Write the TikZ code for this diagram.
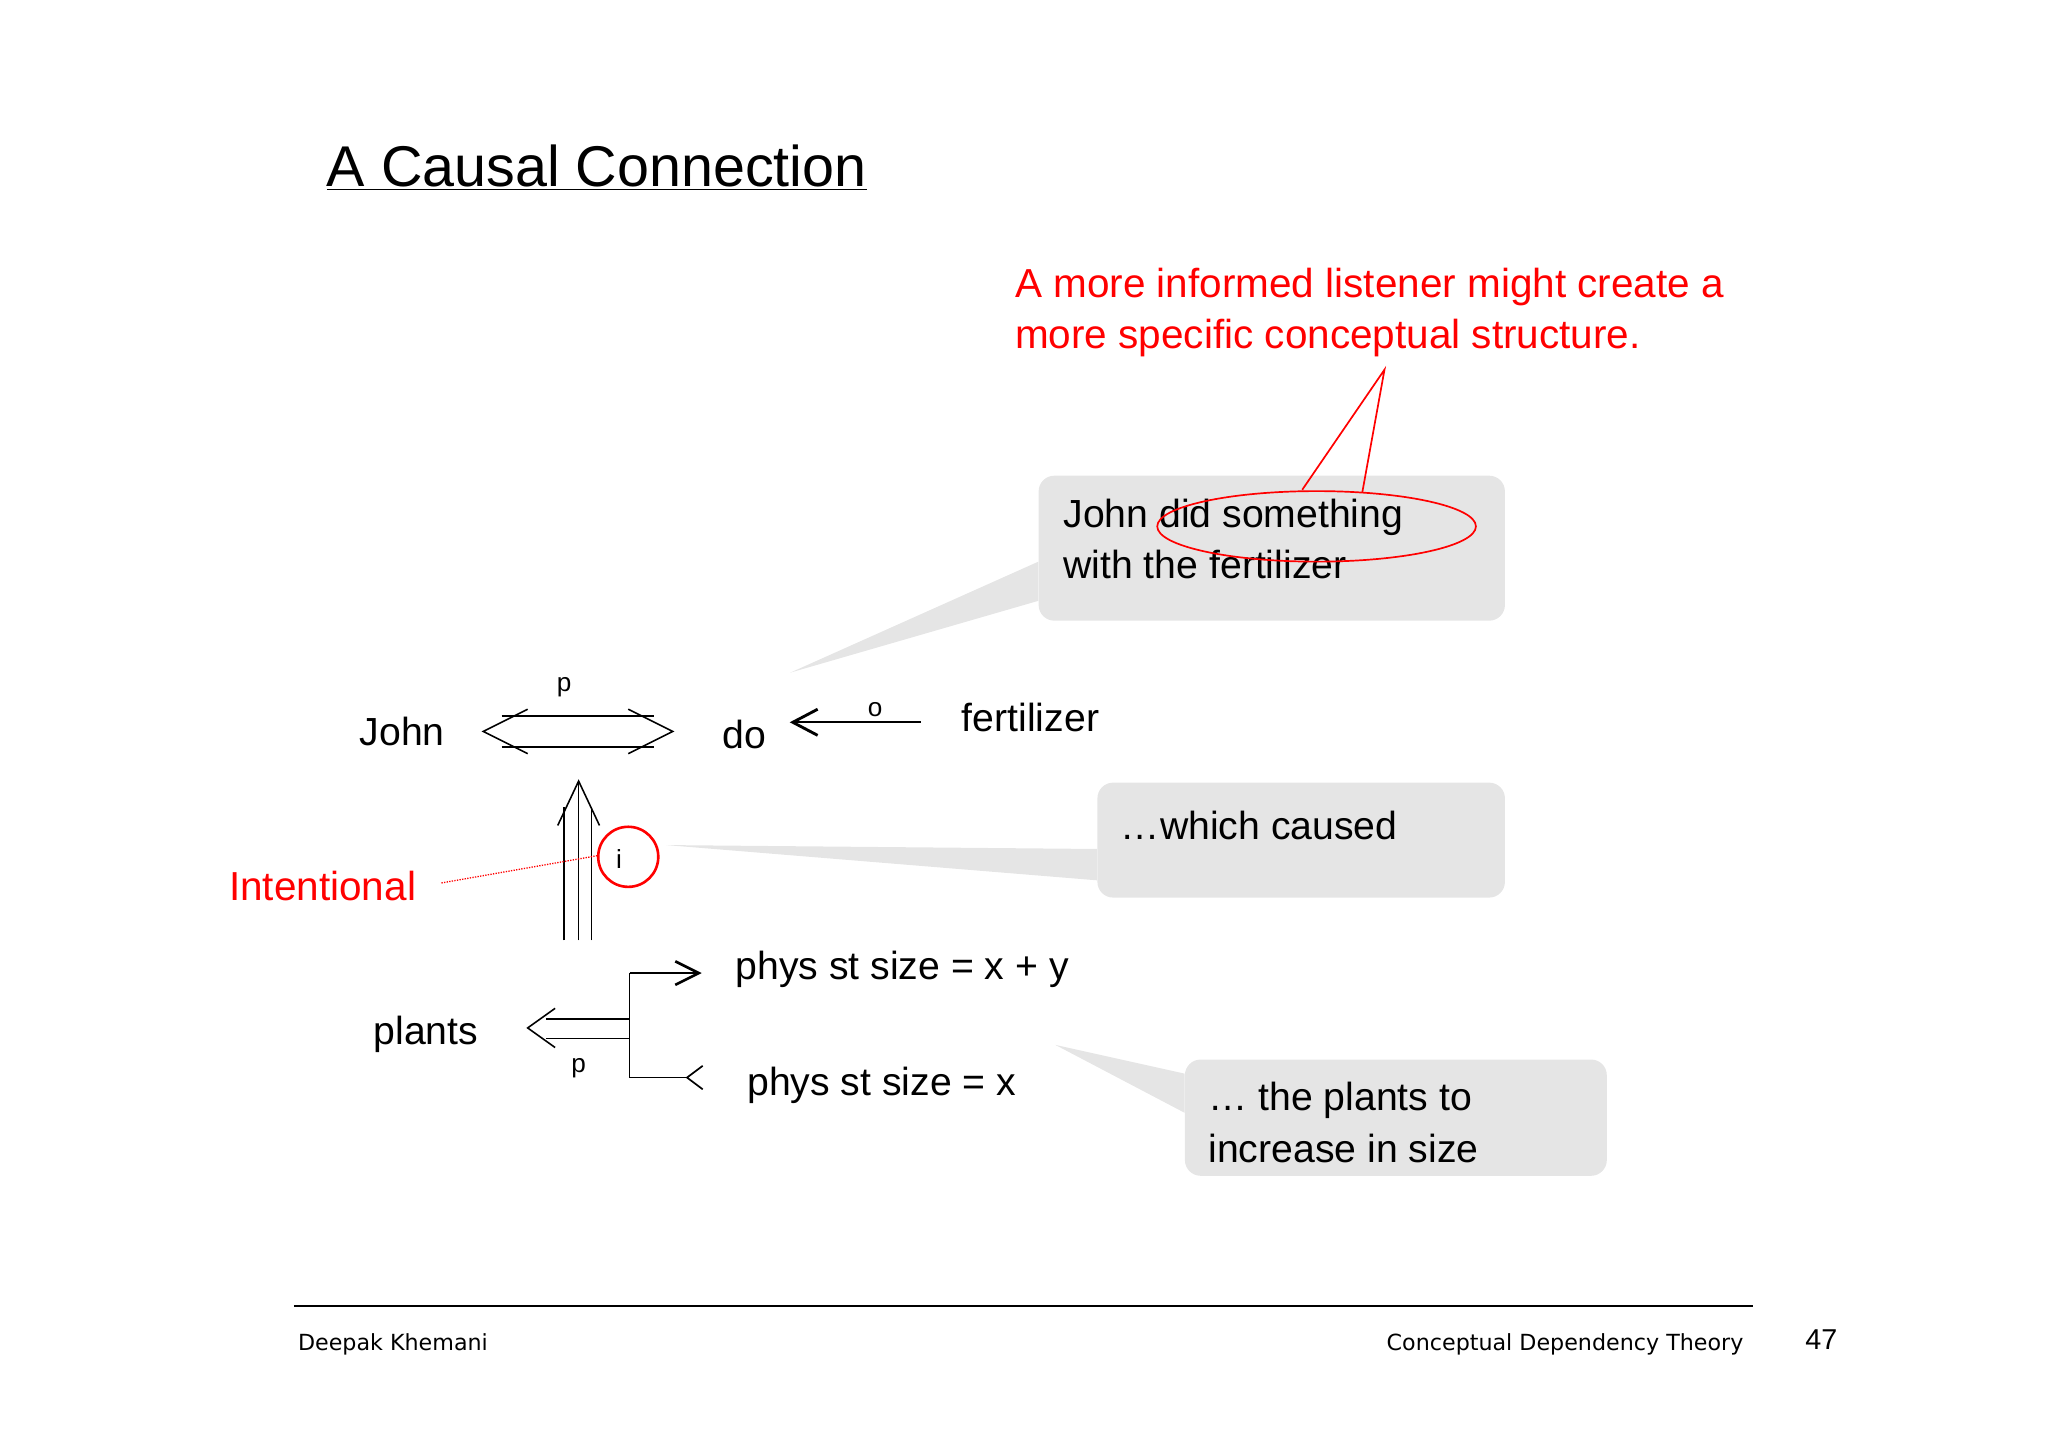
\documentclass[tikz,border=0pt]{standalone}
\usepackage{fontspec}
\setmainfont{Liberation Sans}
\newfontfamily\foot{DejaVu Sans}
\begin{document}
\begin{tikzpicture}[x=1pt,y=-1pt,
  lbl/.style={inner sep=0pt,font=\fontsize{30}{36}\selectfont},
  rl/.style={inner sep=0pt,font=\fontsize{31}{39}\selectfont,text=red,align=left},
  box/.style={fill=black!10,rounded corners=12pt,draw=none},
  ln/.style={line width=1.3pt},
  sm/.style={inner sep=0pt,font=\fontsize{20}{24}\selectfont}]
\useasboundingbox (0,0) rectangle (1568,1108);
% title
\node[inner sep=0pt,anchor=base west,font=\fontsize{44}{50}\selectfont] (title) at (250,143) {\underline{A Causal Connection}};
\node[rl,anchor=north west] (note) at (777,205) {A more informed listener might create a\\more specific conceptual structure.};
% callout 1
\fill[black!10] (795,430) -- (605,515) -- (795,460) -- cycle;
\node[box,minimum width=357,minimum height=111,anchor=north west] (b1) at (795,364) {};
\node[lbl,anchor=north west,align=left,font=\fontsize{30}{39}\selectfont] (t1) at (814,382) {John did something\\with the fertilizer};
\draw[red,line width=1.3pt] (1008,403) ellipse [x radius=122,y radius=27];
\coordinate (tip) at (1060,283);
\draw[red,line width=1.3pt] (997,375) -- (tip) -- (1043,377);
% callout 2
\fill[black!10] (840,650) -- (510,647) -- (840,674) -- cycle;
\node[box,minimum width=312,minimum height=88,anchor=north west] (b2) at (840,599) {};
\node[lbl,anchor=west] (t2) at (858,632) {\dots which caused};
% callout 3
\fill[black!10] (907,822) -- (808,800) -- (907,852) -- cycle;
\node[box,minimum width=323,minimum height=89,anchor=north west] (b3) at (907,811) {};
\node[lbl,anchor=north west,align=left,font=\fontsize{30}{40}\selectfont] (t3) at (925,828) {\dots\ the plants to\\increase in size};
% John <=> do
\node[lbl] (john) at (308,560) {John};
\node[lbl] (do) at (570,562) {do};
\node[sm] (p1) at (432,526) {p};
\coordinate (jl) at (370,560); \coordinate (jr) at (515,560);
\draw[line width=1.2pt] (384,548) -- (501,548) (384,572) -- (501,572);
\draw[line width=1.2pt] (404,543) -- (jl) -- (404,577);
\draw[line width=1.2pt] (481,543) -- (jr) -- (481,577);
% o arrow
\node[lbl] (fert) at (789,549) {fertilizer};
\node[sm] (o) at (670,543) {o};
\coordinate (oa) at (705,553); \coordinate (ob) at (607,553);
\draw[ln] (oa) -- (ob);
\draw[line width=2.2pt] (626,543) -- (ob) -- (626,563);
% triple arrow
\coordinate (ttip) at (443,598);
\draw[line width=1.2pt] (432,720) -- (432,618) (443,720) -- (ttip) (453,720) -- (453,618);
\draw[line width=1.2pt] (427,632) -- (ttip) -- (459,632);
\node[circle,draw=red,line width=2pt,minimum size=46,inner sep=0pt] (ci) at (481,656) {};
\node[sm] (i) at (474,658) {i};
\node[rl] (int) at (247,678) {Intentional};
\draw[red,densely dotted,line width=1pt] (338,676) -- (458,655);
% plants
\node[lbl] (plants) at (326,792) {plants};
\node[sm] (p2) at (443,818) {p};
\coordinate (pt) at (404,787);
\draw[line width=1.2pt] (418,780) -- (482,780) (418,795) -- (482,795);
\draw[line width=1.2pt] (425,772) -- (pt) -- (425,802);
\draw[ln] (482,745) -- (482,825);
\coordinate (a1) at (535,745);
\draw[ln] (482,745) -- (a1);
\draw[line width=2pt] (517,736) -- (a1) -- (517,754);
\coordinate (a2) at (526,825);
\draw[ln] (482,825) -- (a2);
\draw[ln] (538,816) -- (a2) -- (538,834);
\node[lbl,anchor=west] (s1) at (563,742) {phys st size = x + y};
\node[lbl,anchor=west] (s2) at (572,831) {phys st size = x};
% footer
\draw[line width=1.5pt] (225,1000) -- (1342,1000);
\node[inner sep=0pt,anchor=base west,font=\foot\fontsize{17}{20}\selectfont] (au) at (228,1034) {Deepak Khemani};
\node[inner sep=0pt,anchor=base east,font=\foot\fontsize{17}{20}\selectfont] (th) at (1335,1034) {Conceptual Dependency Theory};
\node[inner sep=0pt,anchor=base west,font=\fontsize{22}{26}\selectfont\rmfamily] (pg) at (1382,1033) {47};
\end{tikzpicture}
\end{document}
